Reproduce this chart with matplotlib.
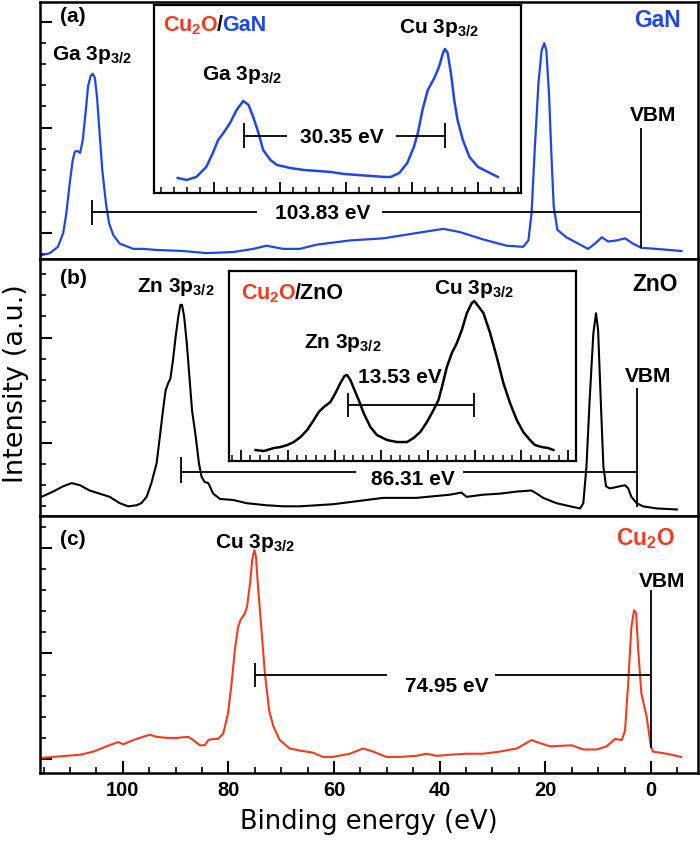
import matplotlib
matplotlib.use('Agg')
import matplotlib.pyplot as plt
from matplotlib import transforms
from matplotlib.ticker import MultipleLocator, NullFormatter

plt.rcParams['font.family'] = 'Liberation Sans'
plt.rcParams['mathtext.fontset'] = 'custom'
plt.rcParams['mathtext.rm'] = 'Liberation Sans'
plt.rcParams['mathtext.bf'] = 'Liberation Sans:bold'
plt.rcParams['mathtext.it'] = 'Liberation Sans:italic'

BLUE = '#1f47e6'
RED = '#f23c1e'

# (a) GaN survey, binding energy (eV) and intensity (a.u.)
gan_ev = [115.4, 113.8, 112.3, 111.3, 110.7, 110.0, 109.5, 109.1, 108.7, 108.1,
          107.6, 107.0, 106.6, 106.1, 105.7, 105.3, 104.9, 104.4, 103.9, 103.2,
          102.6, 101.8, 100.6, 98.0, 96.2, 93.6, 88.6, 84.2, 79.1, 75.3,
          72.8, 69.6, 66.5, 63.3, 60.2, 57.0, 50.7, 44.4, 39.3, 36.2,
          31.8, 27.3, 24.2, 23.2, 22.6, 22.0, 21.3, 20.7, 20.2, 19.8,
          19.3, 18.8, 18.4, 17.7, 16.0, 13.4, 11.9, 10.6, 9.3, 8.1,
          6.5, 4.9, 3.4, 1.8, -1.1, -5.8]
gan_int = [-0.21, -0.19, -0.13, 0.00, 0.19, 0.50, 0.69, 0.77, 0.78, 0.76,
           0.88, 1.17, 1.39, 1.49, 1.51, 1.47, 1.29, 0.94, 0.60, 0.28,
           0.09, -0.02, -0.10, -0.15, -0.15, -0.16, -0.17, -0.19, -0.18, -0.15,
           -0.12, -0.15, -0.15, -0.11, -0.09, -0.07, -0.05, 0.00, 0.04, 0.01,
           -0.06, -0.12, -0.13, -0.07, 0.19, 0.79, 1.42, 1.73, 1.80, 1.73,
           1.32, 0.69, 0.25, 0.03, -0.04, -0.11, -0.15, -0.10, -0.04, -0.08,
           -0.07, -0.05, -0.10, -0.14, -0.15, -0.17]

# (b) ZnO survey
zno_ev = [115.4, 113.2, 111.3, 109.7, 108.1, 106.3, 104.4, 102.5, 100.6, 99.0,
          97.4, 96.5, 95.5, 94.6, 93.6, 93.0, 92.4, 91.9, 91.4, 91.0,
          90.5, 90.0, 89.5, 89.1, 88.8, 88.4, 87.9, 87.4, 86.9, 86.2,
          85.6, 85.1, 84.5, 83.8, 82.9, 81.6, 79.1, 76.6, 72.8, 69.6,
          66.5, 63.3, 60.2, 57.0, 50.7, 44.4, 38.1, 35.9, 34.9, 31.8,
          28.6, 25.4, 22.6, 21.6, 20.4, 17.9, 15.3, 13.4, 12.8, 12.2,
          11.6, 10.9, 10.4, 10.0, 9.5, 9.0, 8.5, 7.8, 6.8, 5.9,
          4.9, 4.3, 3.7, 2.7, 1.5, -1.1, -4.9]
zno_int = [-0.51, -0.46, -0.41, -0.38, -0.40, -0.45, -0.48, -0.51, -0.57, -0.60,
           -0.59, -0.57, -0.51, -0.38, -0.19, 0.06, 0.31, 0.50, 0.57, 0.61,
           0.79, 1.01, 1.20, 1.31, 1.31, 1.20, 0.95, 0.63, 0.31, 0.06,
           -0.19, -0.32, -0.37, -0.38, -0.48, -0.53, -0.54, -0.57, -0.59, -0.60,
           -0.60, -0.59, -0.58, -0.56, -0.52, -0.52, -0.49, -0.47, -0.51, -0.49,
           -0.48, -0.46, -0.45, -0.48, -0.52, -0.57, -0.60, -0.62, -0.57, -0.22,
           0.41, 1.04, 1.23, 1.07, 0.41, -0.22, -0.41, -0.43, -0.42, -0.41,
           -0.40, -0.43, -0.51, -0.57, -0.60, -0.62, -0.63]

# (c) Cu2O survey
cu_ev = [115.4, 113.2, 110.7, 108.1, 105.6, 103.1, 101.5, 100.9, 99.9, 98.0,
         96.2, 94.9, 93.6, 91.7, 89.8, 87.6, 86.7, 85.4, 84.5, 83.8,
         82.9, 82.0, 81.0, 80.1, 79.4, 78.8, 78.2, 77.7, 76.9, 76.5,
         75.9, 75.5, 75.1, 74.8, 74.4, 73.7, 73.1, 72.3, 71.5, 70.3,
         68.4, 66.5, 64.0, 62.1, 60.2, 57.0, 54.5, 52.6, 50.1, 47.5,
         44.4, 42.5, 40.6, 38.1, 34.9, 31.8, 28.6, 25.4, 22.6, 21.0,
         19.1, 15.0, 12.8, 10.3, 8.4, 6.8, 5.5, 4.9, 4.3, 3.7,
         3.2, 2.8, 2.4, 1.8, 0.8, 0.0, -0.4, -3.0, -5.7]
cu_int = [0.01, 0.02, 0.03, 0.04, 0.07, 0.12, 0.15, 0.16, 0.14, 0.18,
          0.21, 0.23, 0.21, 0.20, 0.20, 0.21, 0.18, 0.13, 0.13, 0.18,
          0.19, 0.19, 0.24, 0.43, 0.72, 1.03, 1.25, 1.32, 1.38, 1.44,
          1.67, 1.89, 1.98, 1.92, 1.63, 1.19, 0.81, 0.46, 0.31, 0.18,
          0.10, 0.08, 0.06, 0.02, 0.02, 0.05, 0.10, 0.07, 0.02, 0.02,
          0.03, 0.05, 0.03, 0.04, 0.05, 0.05, 0.07, 0.10, 0.18, 0.15,
          0.12, 0.13, 0.09, 0.09, 0.12, 0.19, 0.18, 0.27, 0.72, 1.25,
          1.41, 1.38, 1.03, 0.62, 0.40, 0.12, 0.07, 0.05, 0.02]

# insets: Cu2O/GaN and Cu2O/ZnO heterojunctions
ins_gan_ev = [115.4, 114.1, 112.6, 111.1, 110.1, 109.3, 108.5, 107.5, 106.5, 105.5,
              104.7, 104.0, 103.2, 102.5, 101.4, 100.4, 98.4, 96.4, 94.3, 92.3,
              90.3, 88.3, 86.2, 84.2, 83.2, 81.9, 80.7, 79.7, 79.1, 78.4,
              77.6, 76.6, 75.9, 75.3, 75.0, 74.6, 74.1, 73.6, 73.1, 72.3,
              71.3, 70.0, 68.5, 67.0]
ins_gan_int = [0.15, 0.13, 0.16, 0.26, 0.40, 0.53, 0.60, 0.70, 0.83, 0.92,
               0.88, 0.76, 0.60, 0.43, 0.33, 0.28, 0.25, 0.23, 0.22, 0.21,
               0.19, 0.18, 0.17, 0.16, 0.16, 0.20, 0.30, 0.46, 0.60, 0.83,
               1.03, 1.15, 1.26, 1.40, 1.44, 1.40, 1.20, 0.93, 0.73, 0.53,
               0.36, 0.26, 0.21, 0.16]
ins_zno_ev = [98.45, 97.56, 96.50, 95.78, 95.06, 94.36, 93.64, 92.93, 92.22, 91.69,
              91.15, 90.44, 89.90, 89.37, 88.94, 88.65, 88.30, 87.95, 87.41, 86.88,
              86.16, 85.45, 84.38, 83.31, 82.24, 81.54, 80.82, 80.11, 79.40, 78.87,
              78.50, 77.97, 77.44, 76.90, 76.37, 75.83, 75.30, 75.02, 74.06, 73.34,
              72.63, 71.92, 71.21, 70.49, 69.79, 69.07, 68.54, 67.82, 67.12, 66.56]
ins_zno_int = [0.11, 0.10, 0.13, 0.14, 0.16, 0.19, 0.24, 0.31, 0.41, 0.49,
               0.54, 0.59, 0.68, 0.78, 0.85, 0.86, 0.81, 0.73, 0.61, 0.48,
               0.34, 0.26, 0.21, 0.19, 0.19, 0.23, 0.29, 0.39, 0.51, 0.61,
               0.74, 0.94, 1.08, 1.18, 1.31, 1.48, 1.58, 1.60, 1.48, 1.28,
               1.04, 0.78, 0.58, 0.41, 0.29, 0.21, 0.16, 0.14, 0.13, 0.11]

# peak positions and separations (eV)
ga_peak, gan_sep = 105.80, 103.83
zn_peak, zno_sep = 88.90, 86.31
cu_peak, cu_sep = 74.95, 74.95
ga_ins, ga_cu_sep = 105.35, 30.35
zn_ins, zn_cu_sep = 88.55, 13.53

BOLD = dict(fontsize=15, fontweight='bold')
SUB = r'3p$_{\mathbf{3/2}}$'

fig, axes = plt.subplots(3, 1, sharex=True, figsize=(7, 8.43), dpi=100)
fig.subplots_adjust(left=0.0571, right=0.997, top=0.9976, bottom=0.083, hspace=0)


def style_main(ax, ylim):
    ax.set_ylim(*ylim)
    ax.yaxis.set_major_locator(MultipleLocator(1))
    ax.yaxis.set_minor_locator(MultipleLocator(0.2))
    ax.yaxis.set_major_formatter(NullFormatter())
    ax.tick_params(axis='y', which='both', direction='in', left=True, right=False,
                   labelleft=False)
    ax.tick_params(axis='y', which='major', length=8.5, width=1.5)
    ax.tick_params(axis='y', which='minor', length=4, width=1.2)
    ax.tick_params(axis='x', which='both', direction='in', top=False)
    for sp in ax.spines.values():
        sp.set_linewidth(1.8)


def style_inset(ax, xlim, ylim, major, minor):
    ax.set_xlim(*xlim)
    ax.set_ylim(*ylim)
    ax.xaxis.set_major_locator(MultipleLocator(major))
    ax.xaxis.set_minor_locator(MultipleLocator(minor))
    ax.tick_params(axis='x', which='both', direction='in', top=False, labelbottom=False)
    ax.tick_params(axis='x', which='major', length=8, width=1.3)
    ax.tick_params(axis='x', which='minor', length=4, width=1.1)
    ax.tick_params(axis='y', which='both', left=False, labelleft=False)
    for sp in ax.spines.values():
        sp.set_linewidth(1.6)


def multicolor(ax, x, y, parts, **kw):
    renderer = fig.canvas.get_renderer()
    shift = 0
    for s, c in parts:
        tr = transforms.offset_copy(ax.transData, fig=fig, x=shift, y=0, units='dots')
        t = ax.text(x, y, s, color=c, transform=tr, ha='left', va='baseline', **kw)
        shift += t.get_window_extent(renderer).width - 1


ax1, ax2, ax3 = axes
style_main(ax1, (-0.246, 2.19))
style_main(ax2, (-0.692, 1.744))
style_main(ax3, (-0.133, 2.303))
ax1.tick_params(axis='x', which='both', bottom=False)
ax2.tick_params(axis='x', which='both', bottom=False)

ax3.set_xlim(115.7, -8.9)
ax3.xaxis.set_major_locator(MultipleLocator(20))
ax3.xaxis.set_minor_locator(MultipleLocator(5))
ax3.tick_params(axis='x', which='major', length=8.5, width=1.5, pad=6, labelsize=14.5)
ax3.tick_params(axis='x', which='minor', length=4, width=1.2)
for lab in ax3.get_xticklabels():
    lab.set_fontweight('bold')

ax3.set_xlabel('Binding energy (eV)', fontsize=18.5, family='DejaVu Sans', va='center')
ax3.xaxis.set_label_coords(0.5, -0.19)
ax2.set_ylabel('Intensity (a.u.)', fontsize=19.5, family='DejaVu Sans', va='center')
ax2.yaxis.set_label_coords(-0.036, 0.514)

# panel (a)
ax1.plot(gan_ev, gan_int, color=BLUE, lw=1.6)
ax1.text(111.9, 2.05, '(a)', ha='left', va='center', **BOLD)
ax1.text(113.4, 1.64, 'Ga ' + SUB, ha='left', va='baseline', **BOLD)
vbm_gan = ga_peak - gan_sep
ax1.vlines(ga_peak, 0.08, 0.31, color='k', lw=1.3)
ax1.hlines(0.20, 74.6, ga_peak, color='k', lw=1.3)
ax1.hlines(0.20, vbm_gan, 50.9, color='k', lw=1.3)
ax1.text(62.1, 0.133, f'{gan_sep:.2f} eV', ha='center', va='baseline', **BOLD)
ax1.vlines(vbm_gan, -0.14, 1.0, color='k', lw=1.3)
ax1.text(-0.4, 1.06, 'VBM', ha='center', va='baseline', **BOLD)
ax1.text(-1.2, 1.95, 'GaN', color=BLUE, ha='center', va='baseline',
         fontsize=16.5, fontweight='bold')

# panel (b)
ax2.plot(zno_ev, zno_int, color='k', lw=1.5)
ax2.text(111.9, 1.56, '(b)', ha='left', va='center', **BOLD)
ax2.text(97.3, 1.43, 'Zn ' + SUB, ha='left', va='baseline', **BOLD)
vbm_zno = zn_peak - zno_sep
ax2.vlines(zn_peak, -0.38, -0.13, color='k', lw=1.3)
ax2.hlines(-0.275, 55.9, zn_peak, color='k', lw=1.3)
ax2.hlines(-0.275, vbm_zno, 35.6, color='k', lw=1.3)
ax2.text(45.1, -0.40, f'{zno_sep:.2f} eV', ha='center', va='baseline', **BOLD)
ax2.vlines(vbm_zno, -0.61, 0.52, color='k', lw=1.3)
ax2.text(0.57, 0.58, 'VBM', ha='center', va='baseline', **BOLD)
ax2.text(-0.76, 1.44, 'ZnO', ha='center', va='baseline', fontsize=16.5, fontweight='bold')

# panel (c)
ax3.plot(cu_ev, cu_int, color=RED, lw=1.5)
ax3.text(111.9, 2.085, '(c)', ha='left', va='center', **BOLD)
ax3.text(82.6, 2.0, 'Cu ' + SUB, ha='left', va='baseline', **BOLD)
vbm_cu = cu_peak - cu_sep
ax3.vlines(cu_peak, 0.68, 0.91, color='k', lw=1.3)
ax3.hlines(0.80, 50.0, cu_peak, color='k', lw=1.3)
ax3.hlines(0.80, vbm_cu, 29.5, color='k', lw=1.3)
ax3.text(38.6, 0.635, f'{cu_sep:.2f} eV', ha='center', va='baseline', **BOLD)
ax3.vlines(vbm_cu, 0.10, 1.60, color='k', lw=1.3)
ax3.text(-2.1, 1.63, 'VBM', ha='center', va='baseline', **BOLD)
ax3.text(1.1, 2.03, r'Cu$_{\mathbf{2}}$O', color=RED, ha='center', va='baseline',
         fontsize=16.5, fontweight='bold')

# inset (a): Cu2O/GaN
ia = fig.add_axes([0.22, 0.7711, 0.5243, 0.2230])
style_inset(ia, (119.0, 63.5), (0, 1.88), 10, 2)
ia.plot(ins_gan_ev, ins_gan_int, color=BLUE, lw=1.8)
multicolor(ia, 117.7, 1.62, [(r'Cu$_{\mathbf{2}}$O', RED), ('/', 'k'), ('GaN', BLUE)],
           fontsize=15.5, fontweight='bold')
ia.text(111.8, 1.13, 'Ga ' + SUB, ha='left', va='baseline', **BOLD)
ia.text(82.0, 1.60, 'Cu ' + SUB, ha='left', va='baseline', **BOLD)
cu_ins = ga_ins - ga_cu_sep
ia.vlines([ga_ins, cu_ins], 0.45, 0.70, color='k', lw=1.3)
ia.hlines(0.57, 98.9, ga_ins, color='k', lw=1.3)
ia.hlines(0.57, cu_ins, 82.45, color='k', lw=1.3)
ia.text(90.65, 0.503, f'{ga_cu_sep:.2f} eV', ha='center', va='baseline', **BOLD)

# inset (b): Cu2O/ZnO
ib = fig.add_axes([0.3271, 0.4531, 0.4957, 0.2254])
style_inset(ib, (101.3, 64.15), (0, 1.90), 5, 1)
ib.plot(ins_zno_ev, ins_zno_int, color='k', lw=1.8)
multicolor(ib, 100.05, 1.62, [(r'Cu$_{\mathbf{2}}$O', RED), ('/ZnO', 'k')],
           fontsize=15.5, fontweight='bold')
ib.text(93.3, 1.13, 'Zn ' + SUB, ha='left', va='baseline', **BOLD)
ib.text(79.4, 1.67, 'Cu ' + SUB, ha='left', va='baseline', **BOLD)
cu_ins_b = zn_ins - zn_cu_sep
ib.vlines([zn_ins, cu_ins_b], 0.44, 0.68, color='k', lw=1.3)
ib.hlines(0.56, cu_ins_b, zn_ins, color='k', lw=1.3)
ib.text(82.96, 0.777, f'{zn_cu_sep:.2f} eV', ha='center', va='baseline', **BOLD)

fig.savefig('out.png', dpi=100)
